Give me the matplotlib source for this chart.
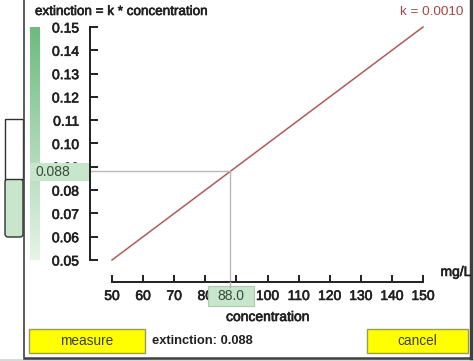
import numpy as np
import matplotlib.pyplot as plt
import matplotlib.patheffects as pe
from matplotlib.patches import Rectangle, FancyBboxPatch
from matplotlib.colors import LinearSegmentedColormap

plt.rcParams['font.family'] = ['Liberation Sans', 'DejaVu Sans']

# data
k = 0.0010
conc = [50, 150]
ext = [k * c for c in conc]
x_ticks = [50, 60, 70, 80, 90, 100, 110, 120, 130, 140, 150]
y_ticks = [0.05, 0.06, 0.07, 0.08, 0.09, 0.10, 0.11, 0.12, 0.13, 0.14, 0.15]
sel_conc = 88.0
sel_ext = 0.088

W, H = 474, 361
fig = plt.figure(figsize=(W / 100, H / 100), dpi=100)

# slightly heavier strokes for the dark labels
heavy = [pe.withStroke(linewidth=0.45, foreground='#202020')]

# background layer in pixel coordinates
bg = fig.add_axes([0, 0, 1, 1])
bg.axis('off')

# frame
bg.plot([24.5, 24.5], [0, 357], color='#404040', lw=1.2)
bg.plot([24.5, 471], [357.5, 357.5], color='#404040', lw=1.8)
bg.plot([471, 471], [0, 358], color='#404040', lw=2.5)
bg.add_patch(Rectangle((0, 358.5), W, 3, color='#d8d8d8', lw=0))

# cuvette
bg.add_patch(FancyBboxPatch((5, 179), 18, 58, boxstyle='round,pad=0,rounding_size=3',
                            facecolor='#c8e6cc', edgecolor='#303030', lw=1))
bg.add_patch(Rectangle((5, 119), 18, 60, facecolor='white', edgecolor='#303030', lw=1))

# green gradient bar
cmap = LinearSegmentedColormap.from_list('g', ['#e6f3e8', '#6dbb7f'])
grad = np.linspace(0, 1, 200).reshape(-1, 1)
bg.imshow(grad, cmap=cmap, extent=(30, 40, 260, 27), origin='lower', aspect='auto')
bg.set_xlim(0, W)
bg.set_ylim(H, 0)

# main axes
x0, x1, y0, y1 = 90, 423, 27, 282
ax = fig.add_axes([x0 / W, (H - y1) / H, (x1 - x0) / W, (y1 - y0) / H])
ax.patch.set_alpha(0)
px_x = 311 / 100
px_y = 233 / 0.1
ax.set_xlim(50 - 22 / px_x, 150)
ax.set_ylim(0.05 - 22 / px_y, 0.15)
for s in ['top', 'right']:
    ax.spines[s].set_visible(False)
ax.spines['left'].set_bounds(0.05, 0.15)
ax.spines['bottom'].set_bounds(50, 150)
for s in ['left', 'bottom']:
    ax.spines[s].set_color('#202020')
    ax.spines[s].set_linewidth(1.4)
ax.set_xticks(x_ticks)
ax.set_yticks(y_ticks)
ax.set_xticklabels([str(v) for v in x_ticks])
ax.set_yticklabels([f'{v:.2f}' for v in y_ticks])
for lab in ax.get_xticklabels() + ax.get_yticklabels():
    lab.set_path_effects(heavy)
ax.tick_params(axis='y', direction='in', length=6, width=1.4, pad=8, labelsize=10, colors='#202020')
ax.tick_params(axis='x', direction='in', length=5, width=1.4, pad=5, labelsize=10, colors='#202020')

ax.plot(conc, ext, color='#b05a5a', lw=1.1, clip_on=False)
ax.plot([ax.get_xlim()[0], sel_conc], [sel_ext, sel_ext], color='#b8b8b8', lw=1, clip_on=False)
ax.plot([sel_conc, sel_conc], [sel_ext, ax.get_ylim()[0]], color='#b8b8b8', lw=1, clip_on=False)

# overlay boxes and texts (pixel coords)
top = fig.add_axes([0, 0, 1, 1])
top.axis('off')
top.patch.set_alpha(0)

top.plot([230, 230], [282, 287], color='#b8b8b8', lw=1)
top.add_patch(Rectangle((30, 163), 59, 18, facecolor='#c8e6cc', edgecolor='none'))
top.text(36, 172.5, f'{sel_ext:.3f}', ha='left', va='center', fontsize=10, color='#3a4a3a')
top.add_patch(Rectangle((208, 286), 46, 20, facecolor='#c8e6cc', edgecolor='#b0c8b0', lw=0.8))
top.text(231, 296.5, f'{sel_conc:.1f}', ha='center', va='center', fontsize=10, color='#3a4a3a')

top.text(35, 12, 'extinction = k * concentration', ha='left', va='center', fontsize=9.7,
         color='#202020', path_effects=heavy)
top.text(463, 12, f'k = {k:.4f}', ha='right', va='center', fontsize=9.7, color='#a04848')
top.text(456, 272, 'mg/L', ha='center', va='center', fontsize=10, color='#202020', path_effects=heavy)
top.text(268, 317, 'concentration', ha='center', va='center', fontsize=10, color='#202020',
         path_effects=heavy)

for bx0, bx1, label in [(29, 145, 'measure'), (367, 468, 'cancel')]:
    top.add_patch(Rectangle((bx0, 328.5), bx1 - bx0, 24.5, facecolor='#ffff00',
                            edgecolor='#9a9a60', lw=1))
    top.text((bx0 + bx1) / 2, 341, label, ha='center', va='center', fontsize=9.8, color='#404020')
top.text(152, 341, f'extinction: {sel_ext:.3f}', ha='left', va='center', fontsize=9.3,
         fontweight='bold', color='#202020')

top.set_xlim(0, W)
top.set_ylim(H, 0)

fig.savefig('out.png', dpi=100)
